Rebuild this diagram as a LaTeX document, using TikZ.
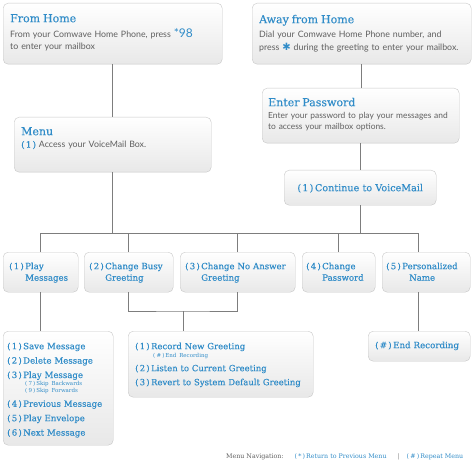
\documentclass[tikz,border=0pt]{standalone}
\usepackage{fontspec}
\setmainfont{Lato}
\newfontfamily\slab[FakeBold=0.2]{DejaVu Serif}
\newfontfamily\slablt{DejaVu Serif}
\newfontfamily\symfont{DejaVu Sans}
\usetikzlibrary{positioning}
\definecolor{vmblue}{RGB}{48,140,200}
\definecolor{vmtext}{RGB}{95,95,95}
\definecolor{vmline}{RGB}{125,125,125}
\definecolor{vmedge}{RGB}{200,200,200}
\definecolor{vmfill}{RGB}{232,232,232}
\newcommand{\ttl}[1]{{\slab\fontsize{11}{12}\selectfont\color{vmblue}#1}}
\newcommand{\key}[1]{(\kern1.2pt#1\kern1.2pt)}
\newcommand{\hilite}[1]{{\color{vmblue}\fontsize{12}{12}\selectfont#1}}
\newcommand{\subkey}[2]{{\slablt\fontsize{5.5}{6}\selectfont\key{#1}\,#2}}

\begin{document}
\begin{tikzpicture}[x=1pt,y=-1pt,
  bx/.style={draw=vmedge,rounded corners=5pt,top color=white,bottom color=vmfill,anchor=north west,
    inner xsep=7pt,inner ysep=0pt,align=left,text=vmtext,font=\fontsize{8.8}{12.5}\selectfont},
  op/.style={bx,text=vmblue,font=\slab\fontsize{8.6}{11.5}\selectfont},
  ln/.style={draw=vmline,line width=0.7pt}]
\useasboundingbox[fill=white] (0,0) rectangle (474,468);

% entry points
\node[bx,text width=205pt,text height=19pt,text depth=42pt] (home) at (3,3)
  {\ttl{From Home}\\[2.5pt]From your Comwave Home Phone, press \hilite{*98}\\to enter your mailbox};
\node[bx,text width=205pt,text height=20pt,text depth=41pt] (away) at (252,3)
  {\ttl{Away from Home}\\[2pt]Dial your Comwave Home Phone number, and\\
   press {\symfont\color{vmblue}\fontsize{10}{10}\selectfont ✱} during the greeting to enter your mailbox.};
\node[bx,text width=185pt,inner xsep=6pt,text height=18pt,text depth=37pt,font=\fontsize{8.4}{11}\selectfont] (passwd) at (262,88)
  {\ttl{Enter Password}\\[1.5pt]Enter your password to play your messages and\\to access your mailbox options.};
\node[bx,text width=183pt,text height=18pt,text depth=37pt] (menu) at (14,117)
  {\ttl{Menu}\\[0pt]{\slab\color{vmblue}\key{1}} Access your VoiceMail Box.};
\node[op,align=center,text width=140pt,inner xsep=6pt,text height=21pt,text depth=14pt,font=\slab\fontsize{9.6}{11}\selectfont] (cont) at (284,170)
  {\key{1}\,Continue to VoiceMail};

% main options
\node[op,text width=63pt,inner xsep=6pt,text height=17pt,text depth=23pt] (play) at (3,252)
  {\key{1}\,Play\\\hphantom{\key{1}\,}Messages};
\node[op,text width=79pt,inner xsep=5pt,text height=17pt,text depth=23pt] (busy) at (84,252)
  {\key{2}\,Change Busy\\\hphantom{\key{2}\,}Greeting};
\node[op,text width=105pt,inner xsep=5pt,text height=17pt,text depth=23pt] (noans) at (180,252)
  {\key{3}\,Change No Answer\\\hphantom{\key{3}\,}Greeting};
\node[op,text width=65pt,inner xsep=4pt,text height=17pt,text depth=23pt] (chpass) at (302,252)
  {\key{4}\,Change\\\hphantom{\key{4}\,}Password};
\node[op,text width=80pt,inner xsep=4pt,text height=17pt,text depth=23pt] (pname) at (382,252)
  {\key{5}\,Personalized\\\hphantom{\key{5}\,}\hspace{7pt}Name};

% sub menus
\node[op,text width=102pt,inner xsep=4pt,text height=18pt,text depth=96pt,font=\slab\fontsize{8.6}{14.4}\selectfont] (msgs) at (3,331)
  {\key{1}\,Save Message\\\key{2}\,Delete Message\\\key{3}\,Play Message\\[-7pt]
   \hspace{18pt}\subkey{7}{Skip Backwards}\\[-7.4pt]
   \hspace{18pt}\subkey{9}{Skip Forwards}\\
   \key{4}\,Previous Message\\\key{5}\,Play Envelope\\\key{6}\,Next Message};
\node[op,text width=171pt,text height=18pt,text depth=48pt,font=\slab\fontsize{8.5}{14}\selectfont] (greet) at (128,331)
  {\key{1}\,Record New Greeting\\[-6pt]
   \hspace{18pt}\subkey{\#}{End Recording}\\
   \key{2}\,Listen to Current Greeting\\\key{3}\,Revert to System Default Greeting};
\node[op,text width=88pt,text height=17pt,text depth=13pt,font=\slab\fontsize{8.7}{11}\selectfont] (endrec) at (368,331)
  {\key{\#}\,End Recording};

\node[anchor=base west,inner sep=0pt,font=\slablt\fontsize{6.3}{7}\selectfont,text=vmtext] (nav) at (226,458)
  {Menu Navigation:\hspace{11pt}{\color{vmblue}\key{*}\,Return to Previous Menu}\hspace{11pt}{\color{gray}|}\hspace{7pt}{\color{vmblue}\key{\#}\,Repeat Menu}};

% connectors
\coordinate (bus) at (0,233);
\coordinate (mid) at (183,311);
\coordinate (pn) at ([xshift=-8pt]pname.north);
\coordinate (ps) at ([xshift=-8pt]pname.south);
\draw[ln] (home) -- (menu);
\draw[ln] (away.south) -- (away.south |- passwd.north);
\draw[ln] (passwd.south) -- (passwd.south |- cont.north);
\draw[ln] (menu.south) -- (menu.south |- bus);
\draw[ln] (cont.south) -- (cont.south |- bus);
\draw[ln] (play.north) -- (play.north |- bus) -- (pn |- bus) -- (pn);
\draw[ln] (busy.north) -- (busy.north |- bus);
\draw[ln] (noans.north) -- (noans.north |- bus);
\draw[ln] (chpass.north) -- (chpass.north |- bus);
\draw[ln] (play.south) -- (play.south |- msgs.north);
\draw[ln] (busy.south) |- (mid) -| (noans.south);
\draw[ln] (mid) -- (mid |- greet.north);
\draw[ln] (ps) -- (ps |- endrec.north);
\end{tikzpicture}
\end{document}
